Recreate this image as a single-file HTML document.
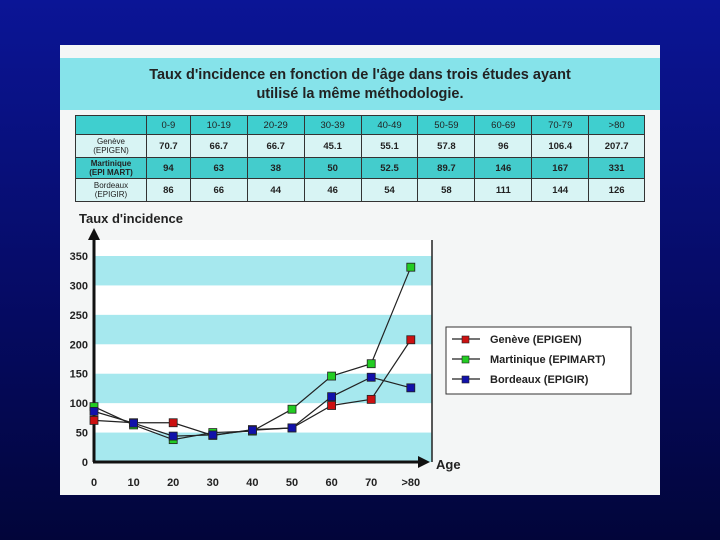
<!DOCTYPE html>
<html><head><meta charset="utf-8"><style>
body{margin:0;width:720px;height:540px;overflow:hidden;background:linear-gradient(#0b1596,#050a60 60%,#02053a);font-family:"Liberation Sans",sans-serif}
#panel{position:absolute;left:60px;top:45px;width:600px;height:450px;background:#f4f6f6}
#title{position:absolute;left:0;top:13px;width:600px;height:52px;background:#86e3ea;text-align:center;font-weight:bold;font-size:14.5px;line-height:19px;color:#222;padding-top:8px;box-sizing:border-box}
table{position:absolute;left:15px;top:70px;width:570px;border-collapse:collapse;font-size:9.5px;font-weight:bold;color:#222;text-align:center}
td{border:1px solid #333;padding:0}
tr.h td{background:#3fcfcf;height:18px;font-weight:normal}
tr.l td{background:#d8f4f4;height:22px}
tr.d td{background:#44cccc;height:20px}
td.n{font-size:8px;line-height:9px;font-weight:normal}
</style></head><body>
<div id="panel">
<div id="title">Taux d'incidence en fonction de l'âge dans trois études ayant<br>utilisé la même méthodologie.</div>
<table>
<tr class="h"><td style="width:70px"></td><td>0-9</td><td>10-19</td><td>20-29</td><td>30-39</td><td>40-49</td><td>50-59</td><td>60-69</td><td>70-79</td><td>&gt;80</td></tr>
<tr class="l"><td class="n">Genève<br>(EPIGEN)</td><td>70.7</td><td>66.7</td><td>66.7</td><td>45.1</td><td>55.1</td><td>57.8</td><td>96</td><td>106.4</td><td>207.7</td></tr>
<tr class="d"><td class="n" style="font-weight:bold">Martinique<br>(EPI MART)</td><td>94</td><td>63</td><td>38</td><td>50</td><td>52.5</td><td>89.7</td><td>146</td><td>167</td><td>331</td></tr>
<tr class="l"><td class="n">Bordeaux<br>(EPIGIR)</td><td>86</td><td>66</td><td>44</td><td>46</td><td>54</td><td>58</td><td>111</td><td>144</td><td>126</td></tr>
</table>
</div>
<svg id="chart" width="720" height="540" style="position:absolute;left:0;top:0"></svg>
<script>
const categories=["0","10","20","30","40","50","60","70",">80"];
const yTicks=[0,50,100,150,200,250,300,350];
const geneve=[70.7,66.7,66.7,45.1,55.1,57.8,96,106.4,207.7];
const martinique=[94,63,38,50,52.5,89.7,146,167,331];
const bordeaux=[86,66,44,46,54,58,111,144,126];
const names=["Genève (EPIGEN)","Martinique (EPIMART)","Bordeaux (EPIGIR)"];
const colors=["#cc1111","#22cc22","#1111aa"];
const svg=document.getElementById('chart');const NS="http://www.w3.org/2000/svg";
function el(t,a,p){const e=document.createElementNS(NS,t);for(const k in a)e.setAttribute(k,a[k]);(p||svg).appendChild(e);return e;}
const x=i=>94+i*39.6, y=v=>462-v*(206/350);
el('rect',{x:94,y:240,width:338,height:222,fill:'#ffffff'});
for(let v=0;v<350;v+=100){const b=el('rect',{x:94,y:y(v+50),width:338,height:y(v)-y(v+50),fill:'#a6e8ee'});}
el('line',{x1:432,y1:240,x2:432,y2:462,stroke:'#222','stroke-width':1.5});
const ax=el('path',{d:'M94,462 V236 M93,462 H420',stroke:'#111','stroke-width':3,fill:'none'});
el('path',{d:'M88,240 L94,228 L100,240Z M418,456 L430,462 L418,468Z',fill:'#111'});
yTicks.forEach(v=>{const t=el('text',{x:88,y:y(v)+4,'text-anchor':'end','font-size':11,'font-weight':'bold',fill:'#222'});t.textContent=v;});
categories.forEach((c,i)=>{const t=el('text',{x:x(i),y:486,'text-anchor':'middle','font-size':11,'font-weight':'bold',fill:'#222'});t.textContent=c;});
let t=el('text',{x:79,y:223,'font-size':13,'font-weight':'bold',fill:'#222'});t.textContent="Taux d'incidence";
t=el('text',{x:436,y:469,'font-size':13,'font-weight':'bold',fill:'#222'});t.textContent="Age";
[geneve,martinique,bordeaux].forEach((s,k)=>{
 const p=el('polyline',{points:s.map((v,i)=>x(i)+','+y(v)).join(' '),fill:'none',stroke:'#222','stroke-width':1.2});
 s.forEach((v,i)=>{const r=el('rect',{x:x(i)-4,y:y(v)-4,width:8,height:8,fill:colors[k],stroke:'#222','stroke-width':0.8});});
});
const lg=el('rect',{x:446,y:327,width:185,height:67,fill:'#fff',stroke:'#333','stroke-width':1});
names.forEach((n,k)=>{const yy=339+k*20;el('line',{x1:452,y1:yy,x2:480,y2:yy,stroke:'#222','stroke-width':1.2});el('rect',{x:462,y:yy-3,width:7,height:7,fill:colors[k],stroke:'#222','stroke-width':0.6});
 const tt=el('text',{x:490,y:yy+4,'font-size':11,'font-weight':'bold',fill:'#222'});tt.textContent=n;});
</script>
</body></html>
